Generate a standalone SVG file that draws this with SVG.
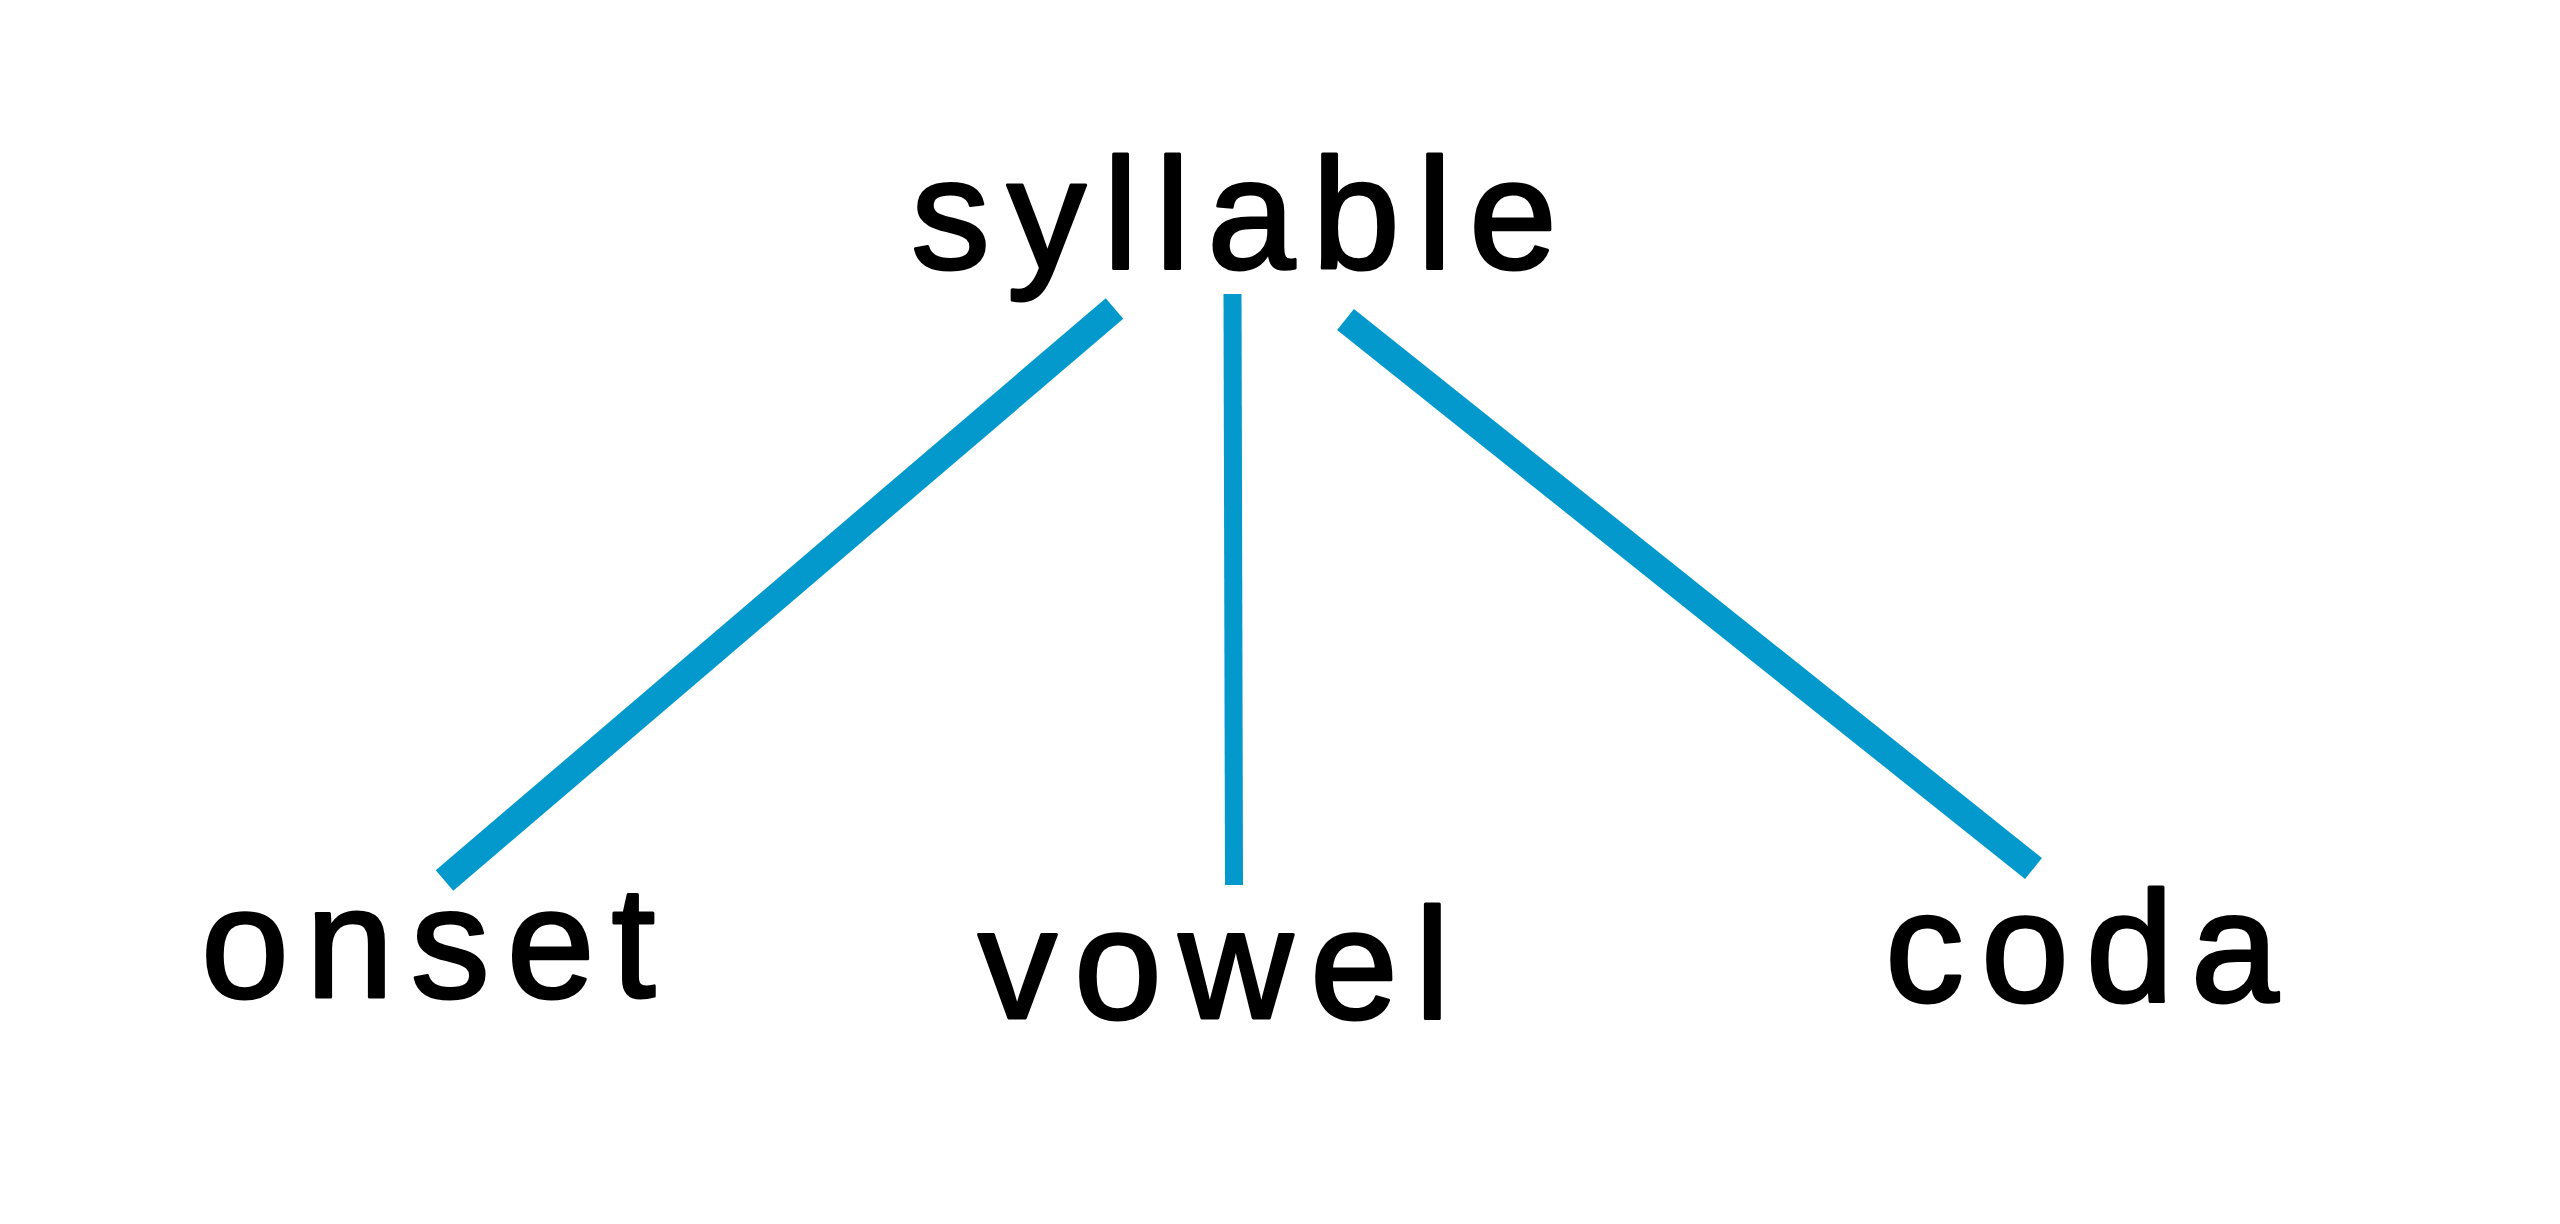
<svg xmlns="http://www.w3.org/2000/svg" width="2560" height="1224" viewBox="0 0 2560 1224">
<style>
.lbl{font-family:"Liberation Sans",Arial,sans-serif;font-size:158px;letter-spacing:17px;fill:#000;stroke:#000;stroke-width:3px;stroke-linejoin:round}
.edge{stroke:#0399CC;stroke-linecap:butt;fill:none}
</style>
<rect width="2560" height="1224" fill="#fff"/>
<g id="connectors">
<line class="edge" x1="1114.5" y1="308.5" x2="444.5" y2="880.5" stroke-width="27"/>
<line class="edge" x1="1232.5" y1="294" x2="1234" y2="885" stroke-width="18"/>
<line class="edge" x1="1345.5" y1="319.5" x2="2033.5" y2="868.5" stroke-width="27"/>
</g>
<g id="syllable"><text class="lbl" x="911" y="268">syllable</text></g>
<g id="onset"><text class="lbl" x="201" y="997">onset</text></g>
<g id="vowel"><text class="lbl" x="978" y="1018">vowel</text></g>
<g id="coda"><text class="lbl" x="1885" y="1001">coda</text></g>
</svg>
